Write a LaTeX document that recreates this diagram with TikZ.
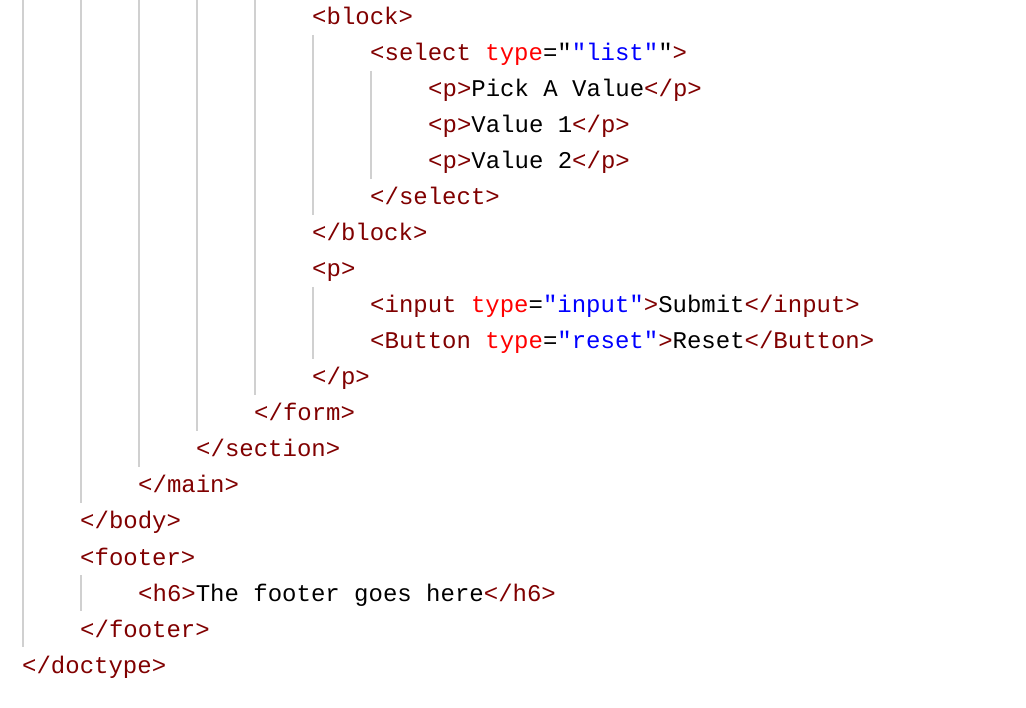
\documentclass[tikz,border=0pt]{standalone}
\usepackage{fontspec}
\setmonofont{Liberation Mono}
\definecolor{tagc}{HTML}{800000}
\definecolor{attc}{HTML}{FF0000}
\definecolor{valc}{HTML}{0000FF}
\definecolor{guidec}{HTML}{D0D0D0}
\newcommand{\tg}[1]{\textcolor{tagc}{#1}}
\newcommand{\at}[1]{\textcolor{attc}{#1}}
\newcommand{\vl}[1]{\textcolor{valc}{#1}}
\begin{document}
\begin{tikzpicture}[x=1pt,y=-1pt,
  codeline/.style={anchor=base west,inner sep=0pt,font=\ttfamily\fontsize{24}{24}\selectfont},
  guide/.style={draw=guidec,line width=1.2pt}]
\useasboundingbox (0,0) rectangle (1026,708);
% guides
\draw[guide] (23,0) -- (23,647);
\draw[guide] (81,0) -- (81,503);
\draw[guide] (81,575) -- (81,611);
\draw[guide] (139,0) -- (139,467);
\draw[guide] (197,0) -- (197,431);
\draw[guide] (255,0) -- (255,395);
\draw[guide] (313,35) -- (313,215);
\draw[guide] (313,287) -- (313,359);
\draw[guide] (371,71) -- (371,179);
% lines
\newcommand{\cl}[4]{\node[codeline] (#1) at ({22+58*#2},{17+36*(#3-1)+8}) {#4};}
\cl{l1}{5}{1}{\tg{<block>}}
\cl{l2}{6}{2}{\tg{<select} \at{type}="\vl{"list"}"\tg{>}}
\cl{l3}{7}{3}{\tg{<p>}Pick A Value\tg{</p>}}
\cl{l4}{7}{4}{\tg{<p>}Value 1\tg{</p>}}
\cl{l5}{7}{5}{\tg{<p>}Value 2\tg{</p>}}
\cl{l6}{6}{6}{\tg{</select>}}
\cl{l7}{5}{7}{\tg{</block>}}
\cl{l8}{5}{8}{\tg{<p>}}
\cl{l9}{6}{9}{\tg{<input} \at{type}=\vl{"input"}\tg{>}Submit\tg{</input>}}
\cl{l10}{6}{10}{\tg{<Button} \at{type}=\vl{"reset"}\tg{>}Reset\tg{</Button>}}
\cl{l11}{5}{11}{\tg{</p>}}
\cl{l12}{4}{12}{\tg{</form>}}
\cl{l13}{3}{13}{\tg{</section>}}
\cl{l14}{2}{14}{\tg{</main>}}
\cl{l15}{1}{15}{\tg{</body>}}
\cl{l16}{1}{16}{\tg{<footer>}}
\cl{l17}{2}{17}{\tg{<h6>}The footer goes here\tg{</h6>}}
\cl{l18}{1}{18}{\tg{</footer>}}
\cl{l19}{0}{19}{\tg{</doctype>}}
\end{tikzpicture}
\end{document}
